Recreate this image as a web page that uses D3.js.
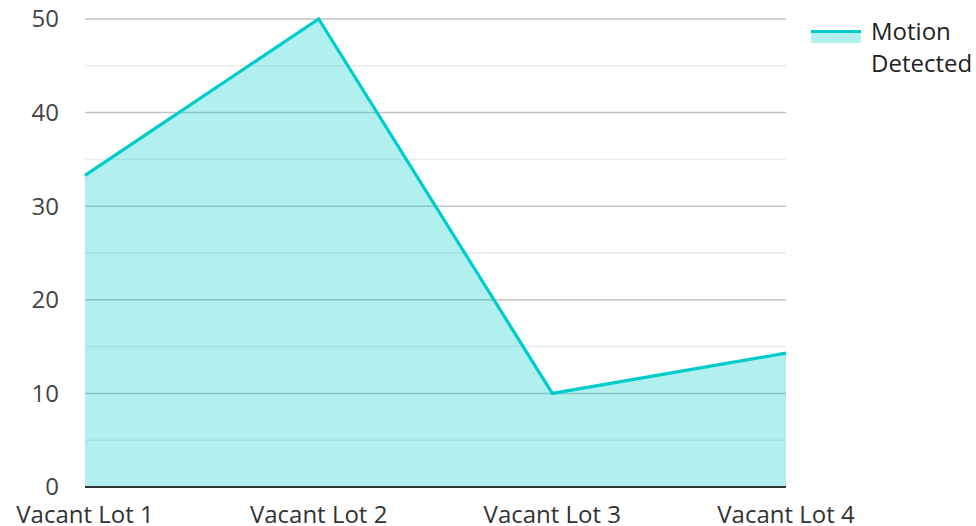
<!DOCTYPE html>
<html>
<head>
<meta charset="utf-8">
<script src="https://cdn.jsdelivr.net/npm/d3@7"></script>
<style>
  body { margin: 0; background: #fff; }
  text { font-family: "Open Sans", sans-serif; }
</style>
</head>
<body>
<div id="chart"></div>
<script>
const categories = ["Vacant Lot 1", "Vacant Lot 2", "Vacant Lot 3", "Vacant Lot 4"];
const motionDetected = [33.3, 50, 10, 14.3];
const seriesName = ["Motion", "Detected"];
const yTicks = [0, 10, 20, 30, 40, 50];
const yMinorTicks = [5, 15, 25, 35, 45];

const width = 976, height = 526;
const margin = { top: 19, right: 190, bottom: 39, left: 85 };
const lineColor = "#00cccc";

const svg = d3.select("#chart").append("svg").attr("width", width).attr("height", height);

const x = d3.scalePoint().domain(categories).range([margin.left, width - margin.right]);
const y = d3.scaleLinear().domain([0, 50]).range([height - margin.bottom, margin.top]);

// minor grid
svg.append("g").selectAll("line")
    .data(yMinorTicks)
    .join("line")
    .attr("x1", margin.left).attr("x2", width - margin.right)
    .attr("y1", d => y(d)).attr("y2", d => y(d))
    .attr("stroke", "#ebebeb").attr("stroke-width", 1.5);

// major grid
svg.append("g").selectAll("line")
    .data(yTicks.filter(d => d > 0))
    .join("line")
    .attr("x1", margin.left).attr("x2", width - margin.right)
    .attr("y1", d => y(d)).attr("y2", d => y(d))
    .attr("stroke", "#c4c4c4").attr("stroke-width", 1.5);

const pts = categories.map((c, i) => ({ c, v: motionDetected[i] }));

svg.append("path")
    .datum(pts)
    .attr("d", d3.area().x(d => x(d.c)).y0(y(0)).y1(d => y(d.v)))
    .attr("fill", lineColor).attr("fill-opacity", 0.3);

svg.append("path")
    .datum(pts)
    .attr("d", d3.line().x(d => x(d.c)).y(d => y(d.v)))
    .attr("fill", "none").attr("stroke", lineColor).attr("stroke-width", 3.2);

// baseline
svg.append("line")
    .attr("x1", margin.left).attr("x2", width - margin.right)
    .attr("y1", y(0)).attr("y2", y(0))
    .attr("stroke", "#333").attr("stroke-width", 2);

// y labels
svg.append("g").selectAll("text")
    .data(yTicks)
    .join("text")
    .attr("x", 59).attr("y", d => y(d))
    .attr("dy", "0.35em")
    .attr("text-anchor", "end")
    .attr("font-size", 24).attr("fill", "#444")
    .text(d => d);

// x labels
svg.append("g").selectAll("text")
    .data(categories)
    .join("text")
    .attr("x", d => x(d)).attr("y", 523)
    .attr("text-anchor", "middle")
    .attr("font-size", 24).attr("fill", "#333")
    .text(d => d);

// legend
const lg = svg.append("g");
lg.append("rect").attr("x", 811).attr("y", 31).attr("width", 50).attr("height", 12)
    .attr("fill", lineColor).attr("fill-opacity", 0.3);
lg.append("line").attr("x1", 811).attr("x2", 861).attr("y1", 31.5).attr("y2", 31.5)
    .attr("stroke", lineColor).attr("stroke-width", 3);
lg.selectAll("text")
    .data(seriesName)
    .join("text")
    .attr("x", 871).attr("y", (d, i) => 40 + i * 32)
    .attr("font-size", 24).attr("fill", "#222")
    .text(d => d);
</script>
</body>
</html>
